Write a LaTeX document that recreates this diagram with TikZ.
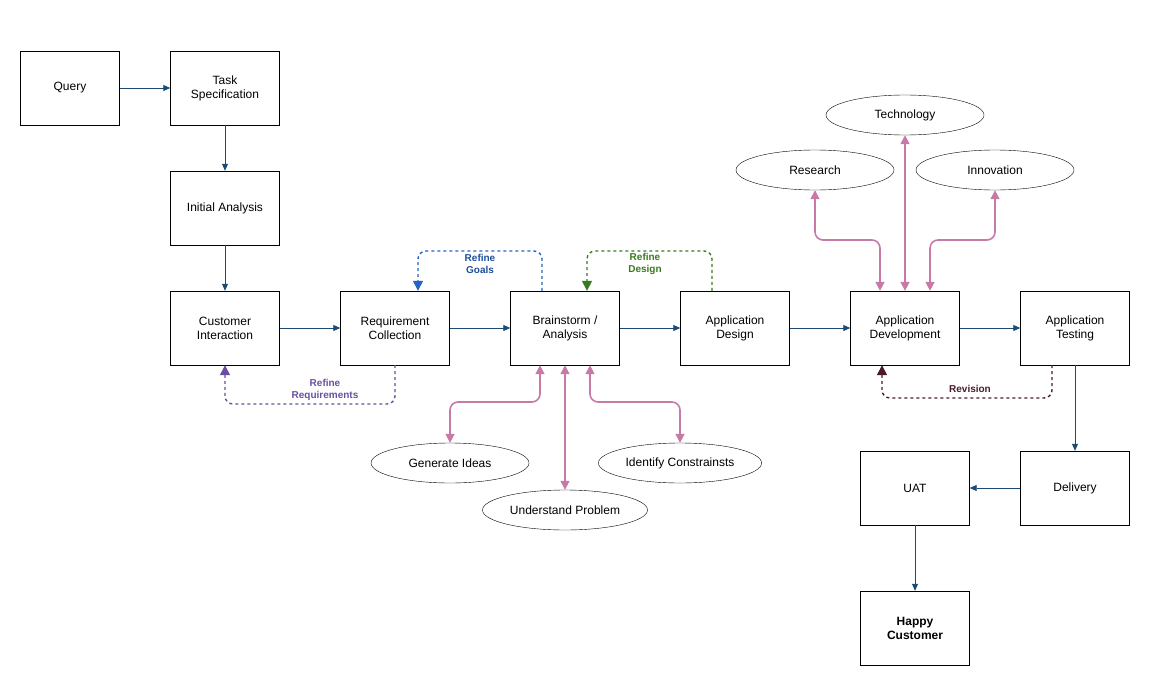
\documentclass[tikz,border=0pt]{standalone}
\usepackage{fontspec}
\setmainfont{Liberation Sans}
\usetikzlibrary{arrows.meta,positioning,shapes.geometric}
\definecolor{flow}{HTML}{1C4A73}
\definecolor{link}{HTML}{C77AA8}
\definecolor{goals}{HTML}{2563C4}
\definecolor{design}{HTML}{3A7A1E}
\definecolor{reqs}{HTML}{6A4FA0}
\definecolor{revis}{HTML}{4A1A2A}
\tikzset{
  box/.style={draw, minimum width=109pt, minimum height=74pt, align=center, font=\fontsize{12}{14}\selectfont},
  oval/.style={draw, ellipse, minimum width=158pt, minimum height=40pt, font=\fontsize{12}{14}\selectfont},
  flowarrow/.style={draw=flow, thick, -{Triangle[length=7pt,width=6pt]}},
  both/.style={draw=link, line width=1.6pt, rounded corners=8pt, {Triangle[length=9pt,width=9pt]}-{Triangle[length=9pt,width=9pt]}},
  back/.style={dashed, line width=1.4pt, rounded corners=8pt, -{Triangle[length=10pt,width=10pt]}},
  tag/.style={font=\bfseries\fontsize{10}{12}\selectfont, align=center}
}
\begin{document}
\begin{tikzpicture}[x=1pt,y=-1pt]
  \useasboundingbox (0,0) rectangle (1155,685);
  % --- boxes ---
  \node[box, minimum width=99pt] (query) at (70,88) {Query};
  \node[box] (task) at (225,88) {Task\\Specification};
  \node[box] (init) at (225,208) {Initial Analysis};
  \node[box] (cust) at (225,328) {Customer\\Interaction};
  \node[box] (req) at (395,328) {Requirement\\Collection};
  \node[box] (brain) at (565,328) {Brainstorm /\\Analysis};
  \node[box] (appdes) at (735,328) {Application\\Design};
  \node[box] (appdev) at (905,328) {Application\\Development};
  \node[box] (test) at (1075,328) {Application\\Testing};
  \node[box] (deliv) at (1075,488) {Delivery};
  \node[box] (uat) at (915,488) {UAT};
  \node[box, font=\bfseries\fontsize{12}{14}\selectfont] (happy) at (915,628) {Happy\\Customer};

  % --- ellipses ---
  \node[oval] (ideas) at (450,463) {Generate Ideas};
  \node[oval] (problem) at (565,510) {Understand Problem};
  \node[oval] (constr) at (680,463) {Identify Constrainsts};
  \node[oval] (research) at (815,170) {Research};
  \node[oval] (techno) at (905,115) {Technology};
  \node[oval] (innov) at (995,170) {Innovation};

  % --- main flow ---
  \draw[flowarrow] (query) -- (task);
  \draw[flowarrow] (task) -- (init);
  \draw[flowarrow] (init) -- (cust);
  \draw[flowarrow] (cust) -- (req);
  \draw[flowarrow] (req) -- (brain);
  \draw[flowarrow] (brain) -- (appdes);
  \draw[flowarrow] (appdes) -- (appdev);
  \draw[flowarrow] (appdev) -- (test);
  \draw[flowarrow] (test) -- (deliv);
  \draw[flowarrow] (deliv) -- (uat);
  \draw[flowarrow] (uat) -- (happy);

  % --- links to ellipses ---
  \draw[both] (brain.south -| 540,0) -- (540,402) -- (450,402) -- (ideas.north);
  \draw[both] (brain.south) -- (problem.north);
  \draw[both] (brain.south -| 590,0) -- (590,402) -- (680,402) -- (constr.north);
  \draw[both] (appdev.north -| 880,0) -- (880,240) -- (815,240) -- (research.south);
  \draw[both] (appdev.north) -- (techno.south);
  \draw[both] (appdev.north -| 930,0) -- (930,240) -- (995,240) -- (innov.south);

  % --- feedback loops ---
  \draw[back, goals] (brain.north -| 542,0) -- (542,251) -- (418,251) -- (req.north -| 418,0);
  \node[tag, text=goals!80!black] (lgoals) at (480,264) {Refine\\Goals};
  \draw[back, design] (appdes.north -| 712,0) -- (712,251) -- (587,251) -- (brain.north -| 587,0);
  \node[tag, text=design] (ldesign) at (645,264) {Refine\\Design};
  \draw[back, reqs] (req.south) -- (395,404) -- (225,404) -- (cust.south);
  \node[tag, text=reqs] (lreqs) at (325,390) {Refine\\Requirements};
  \draw[back, revis] (test.south -| 1052,0) -- (1052,398) -- (882,398) -- (appdev.south -| 882,0);
  \node[tag, text=revis] (lrev) at (970,389) {Revision};
\end{tikzpicture}
\end{document}
